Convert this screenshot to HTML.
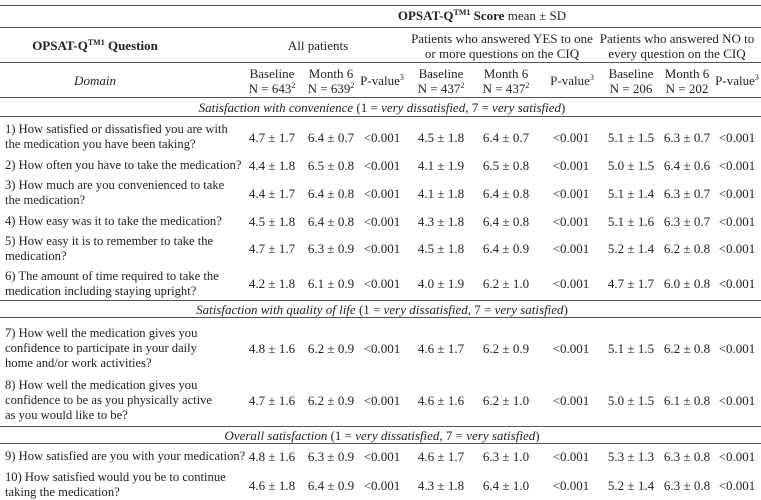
<!DOCTYPE html>
<html><head><meta charset="utf-8"><style>
body{margin:0;background:#fff;}
#w{position:relative;width:761px;height:500px;overflow:hidden;font-family:"Liberation Serif",serif;font-size:13px;color:#222;line-height:15px;}
.c{position:absolute;transform:translateX(-50%);white-space:nowrap;text-align:center;}
.l{position:absolute;left:5px;white-space:nowrap;font-size:12.6px;}
.h{position:absolute;left:0;width:761px;height:1px;background:#555;}
i{font-style:italic;}
sup{font-size:8px;line-height:0;vertical-align:5px;}
</style></head><body><div id="w">
<div class="h" style="top:5px"></div>
<div class="h" style="top:27px"></div>
<div class="h" style="top:62px"></div>
<div class="h" style="top:97px"></div>
<div class="h" style="top:116px"></div>
<div class="h" style="top:300px"></div>
<div class="h" style="top:317px"></div>
<div class="h" style="top:426px"></div>
<div class="h" style="top:443px"></div>

<div class="c" style="left:482px;top:8px"><b>OPSAT-Q<sup>TM1</sup> Score</b> mean ± SD</div>
<div class="c" style="left:95px;top:38px"><b>OPSAT-Q<sup>TM1</sup> Question</b></div>
<div class="c" style="left:318px;top:38px">All patients</div>
<div class="c" style="left:502px;top:31px">Patients who answered YES to one<br>or more questions on the CIQ</div>
<div class="c" style="left:677px;top:31px">Patients who answered NO to<br>every question on the CIQ</div>
<div class="c" style="left:95px;top:73px"><i>Domain</i></div>
<div class="c" style="left:272px;top:66px">Baseline<br>N = 643<sup>2</sup></div>
<div class="c" style="left:331px;top:66px">Month 6<br>N = 639<sup>2</sup></div>
<div class="c" style="left:382px;top:73px">P-value<sup>3</sup></div>
<div class="c" style="left:441px;top:66px">Baseline<br>N = 437<sup>2</sup></div>
<div class="c" style="left:506px;top:66px">Month 6<br>N = 437<sup>2</sup></div>
<div class="c" style="left:572px;top:73px">P-value<sup>3</sup></div>
<div class="c" style="left:631px;top:66px">Baseline<br>N = 206</div>
<div class="c" style="left:687px;top:66px">Month 6<br>N = 202</div>
<div class="c" style="left:737px;top:73px">P-value<sup>3</sup></div>

<div class="c" style="left:382px;top:100px"><i>Satisfaction with convenience</i> (1 = <i>very dissatisfied</i>, 7 = <i>very satisfied</i>)</div>
<div class="c" style="left:382px;top:302px"><i>Satisfaction with quality of life</i> (1 = <i>very dissatisfied</i>, 7 = <i>very satisfied</i>)</div>
<div class="c" style="left:382px;top:428px"><i>Overall satisfaction</i> (1 = <i>very dissatisfied</i>, 7 = <i>very satisfied</i>)</div>

<div class="l" style="top:122px">1) How satisfied or dissatisfied you are with<br>the medication you have been taking?</div>
<div class="l" style="top:158px">2) How often you have to take the medication?</div>
<div class="l" style="top:178px">3) How much are you convenienced to take<br>the medication?</div>
<div class="l" style="top:214px">4) How easy was it to take the medication?</div>
<div class="l" style="top:234px">5) How easy it is to remember to take the<br>medication?</div>
<div class="l" style="top:269px">6) The amount of time required to take the<br>medication including staying upright?</div>
<div class="l" style="top:326px">7) How well the medication gives you<br>confidence to participate in your daily<br>home and/or work activities?</div>
<div class="l" style="top:378px">8) How well the medication gives you<br>confidence to be as you physically active<br>as you would like to be?</div>
<div class="l" style="top:449px">9) How satisfied are you with your medication?</div>
<div class="l" style="top:470px">10) How satisfied would you be to continue<br>taking the medication?</div>
</div>
<div style="position:absolute;left:0;top:0;width:761px;height:500px;font-family:'Liberation Serif',serif;font-size:13px;color:#222;line-height:15px;">
<div class="c" style="left:272px;top:130px">4.7 ± 1.7</div><div class="c" style="left:331px;top:130px">6.4 ± 0.7</div><div class="c" style="left:382px;top:130px">&lt;0.001</div><div class="c" style="left:441px;top:130px">4.5 ± 1.8</div><div class="c" style="left:506px;top:130px">6.4 ± 0.7</div><div class="c" style="left:571px;top:130px">&lt;0.001</div><div class="c" style="left:631px;top:130px">5.1 ± 1.5</div><div class="c" style="left:687px;top:130px">6.3 ± 0.7</div><div class="c" style="left:737px;top:130px">&lt;0.001</div>
<div class="c" style="left:272px;top:158px">4.4 ± 1.8</div><div class="c" style="left:331px;top:158px">6.5 ± 0.8</div><div class="c" style="left:382px;top:158px">&lt;0.001</div><div class="c" style="left:441px;top:158px">4.1 ± 1.9</div><div class="c" style="left:506px;top:158px">6.5 ± 0.8</div><div class="c" style="left:571px;top:158px">&lt;0.001</div><div class="c" style="left:631px;top:158px">5.0 ± 1.5</div><div class="c" style="left:687px;top:158px">6.4 ± 0.6</div><div class="c" style="left:737px;top:158px">&lt;0.001</div>
<div class="c" style="left:272px;top:186px">4.4 ± 1.7</div><div class="c" style="left:331px;top:186px">6.4 ± 0.8</div><div class="c" style="left:382px;top:186px">&lt;0.001</div><div class="c" style="left:441px;top:186px">4.1 ± 1.8</div><div class="c" style="left:506px;top:186px">6.4 ± 0.8</div><div class="c" style="left:571px;top:186px">&lt;0.001</div><div class="c" style="left:631px;top:186px">5.1 ± 1.4</div><div class="c" style="left:687px;top:186px">6.3 ± 0.7</div><div class="c" style="left:737px;top:186px">&lt;0.001</div>
<div class="c" style="left:272px;top:214px">4.5 ± 1.8</div><div class="c" style="left:331px;top:214px">6.4 ± 0.8</div><div class="c" style="left:382px;top:214px">&lt;0.001</div><div class="c" style="left:441px;top:214px">4.3 ± 1.8</div><div class="c" style="left:506px;top:214px">6.4 ± 0.8</div><div class="c" style="left:571px;top:214px">&lt;0.001</div><div class="c" style="left:631px;top:214px">5.1 ± 1.6</div><div class="c" style="left:687px;top:214px">6.3 ± 0.7</div><div class="c" style="left:737px;top:214px">&lt;0.001</div>
<div class="c" style="left:272px;top:241px">4.7 ± 1.7</div><div class="c" style="left:331px;top:241px">6.3 ± 0.9</div><div class="c" style="left:382px;top:241px">&lt;0.001</div><div class="c" style="left:441px;top:241px">4.5 ± 1.8</div><div class="c" style="left:506px;top:241px">6.4 ± 0.9</div><div class="c" style="left:571px;top:241px">&lt;0.001</div><div class="c" style="left:631px;top:241px">5.2 ± 1.4</div><div class="c" style="left:687px;top:241px">6.2 ± 0.8</div><div class="c" style="left:737px;top:241px">&lt;0.001</div>
<div class="c" style="left:272px;top:276px">4.2 ± 1.8</div><div class="c" style="left:331px;top:276px">6.1 ± 0.9</div><div class="c" style="left:382px;top:276px">&lt;0.001</div><div class="c" style="left:441px;top:276px">4.0 ± 1.9</div><div class="c" style="left:506px;top:276px">6.2 ± 1.0</div><div class="c" style="left:571px;top:276px">&lt;0.001</div><div class="c" style="left:631px;top:276px">4.7 ± 1.7</div><div class="c" style="left:687px;top:276px">6.0 ± 0.8</div><div class="c" style="left:737px;top:276px">&lt;0.001</div>
<div class="c" style="left:272px;top:341px">4.8 ± 1.6</div><div class="c" style="left:331px;top:341px">6.2 ± 0.9</div><div class="c" style="left:382px;top:341px">&lt;0.001</div><div class="c" style="left:441px;top:341px">4.6 ± 1.7</div><div class="c" style="left:506px;top:341px">6.2 ± 0.9</div><div class="c" style="left:571px;top:341px">&lt;0.001</div><div class="c" style="left:631px;top:341px">5.1 ± 1.5</div><div class="c" style="left:687px;top:341px">6.2 ± 0.8</div><div class="c" style="left:737px;top:341px">&lt;0.001</div>
<div class="c" style="left:272px;top:393px">4.7 ± 1.6</div><div class="c" style="left:331px;top:393px">6.2 ± 0.9</div><div class="c" style="left:382px;top:393px">&lt;0.001</div><div class="c" style="left:441px;top:393px">4.6 ± 1.6</div><div class="c" style="left:506px;top:393px">6.2 ± 1.0</div><div class="c" style="left:571px;top:393px">&lt;0.001</div><div class="c" style="left:631px;top:393px">5.0 ± 1.5</div><div class="c" style="left:687px;top:393px">6.1 ± 0.8</div><div class="c" style="left:737px;top:393px">&lt;0.001</div>
<div class="c" style="left:272px;top:449px">4.8 ± 1.6</div><div class="c" style="left:331px;top:449px">6.3 ± 0.9</div><div class="c" style="left:382px;top:449px">&lt;0.001</div><div class="c" style="left:441px;top:449px">4.6 ± 1.7</div><div class="c" style="left:506px;top:449px">6.3 ± 1.0</div><div class="c" style="left:571px;top:449px">&lt;0.001</div><div class="c" style="left:631px;top:449px">5.3 ± 1.3</div><div class="c" style="left:687px;top:449px">6.3 ± 0.8</div><div class="c" style="left:737px;top:449px">&lt;0.001</div>
<div class="c" style="left:272px;top:478px">4.6 ± 1.8</div><div class="c" style="left:331px;top:478px">6.4 ± 0.9</div><div class="c" style="left:382px;top:478px">&lt;0.001</div><div class="c" style="left:441px;top:478px">4.3 ± 1.8</div><div class="c" style="left:506px;top:478px">6.4 ± 1.0</div><div class="c" style="left:571px;top:478px">&lt;0.001</div><div class="c" style="left:631px;top:478px">5.2 ± 1.4</div><div class="c" style="left:687px;top:478px">6.3 ± 0.8</div><div class="c" style="left:737px;top:478px">&lt;0.001</div>
</div>
</body></html>
